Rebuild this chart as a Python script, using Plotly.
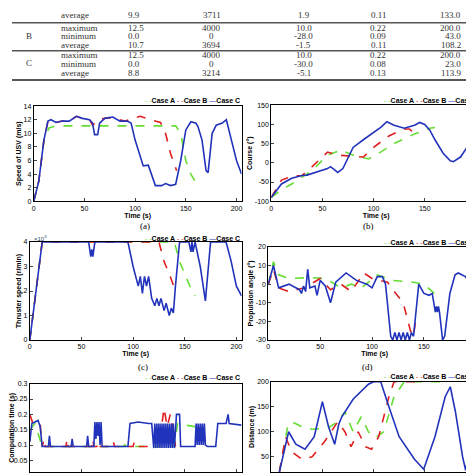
import plotly.graph_objects as go

W = H = 474
def py(p): return 1 - p / H
def px(p): return p / W

GREEN, RED, BLUE = "#66dd33", "#e02020", "#2233bb"

# ---- table data ----
table_rows = [
    ("", "average", ["9.9", "3711", "1.9", "0.11", "133.0"]),
    ("B", "maximum", ["12.5", "4000", "10.0", "0.22", "200.0"]),
    ("", "minimum", ["0.0", "0", "-28.0", "0.09", "43.0"]),
    ("", "average", ["10.7", "3694", "-1.5", "0.11", "108.2"]),
    ("C", "maximum", ["12.5", "4000", "10.0", "0.22", "200.0"]),
    ("", "minimum", ["0.0", "0", "-30.0", "0.08", "23.0"]),
    ("", "average", ["8.8", "3214", "-5.1", "0.13", "113.9"]),
]
row_y = [3, 16, 25, 34, 44, 54, 63]
col_x = [115, 202, 295, 380, 456]

# ---- (a) speed ----
a_A_t = [0, 5, 10, 15, 20, 30, 140, 145, 150, 155, 160]
a_A_v = [0, 3, 9, 10.8, 11, 11.1, 11.1, 10, 6, 4, 2.7]
a_B_t = [0, 5, 10, 14, 17, 22, 28, 35, 42, 48, 55, 58, 65, 75, 90, 100, 105, 115, 125, 130, 135, 141]
a_B_v = [0, 3, 9, 11.8, 12, 11.6, 11.8, 11.8, 12.5, 12.2, 12, 11.2, 12.1, 12.3, 11.8, 12.2, 12.5, 12, 11.6, 10, 7, 4.5]
a_C_t = [0, 5, 10, 14, 17, 22, 28, 35, 42, 48, 55, 58, 60, 63, 65, 70, 78, 85, 92, 96, 100, 105, 108, 113, 116, 120, 126, 130, 135, 140, 145, 150, 155, 160, 162, 166, 170, 172, 176, 180, 186, 190, 195, 200, 205]
a_C_v = [0, 3, 9, 11.8, 12, 11.6, 11.8, 11.8, 12.5, 12.2, 12, 11.5, 9.8, 9.8, 11.5, 12.2, 12.4, 11.8, 11.8, 11.5, 9, 6.5, 5.2, 5.3, 4, 2.3, 2.3, 2.6, 2.3, 2.5, 6, 10.5, 11.7, 11.5, 11, 9, 4.5, 4.2, 10, 11.2, 11.5, 12, 9, 6, 4]

# ---- (b) course ----
b_A_t = [0, 10, 20, 40, 55, 68, 80, 95, 105, 120, 140, 155, 160]
b_A_v = [-90, -70, -55, -20, 20, 33, 20, 10, 25, 50, 75, 90, 92]
b_B_t = [0, 10, 20, 30, 40, 55, 65, 80, 90, 100, 115, 130, 135, 140]
b_B_v = [-90, -45, -35, -33, -10, 28, 20, 18, 15, 40, 70, 88, 88, 75]
b_C_t = [0, 10, 20, 30, 35, 40, 50, 55, 58, 62, 65, 70, 80, 90, 100, 107, 113, 120, 130, 140, 145, 150, 155, 160, 168, 175, 178, 185, 195, 205]
b_C_v = [-90, -55, -40, -33, -32, -28, -20, -15, -10, -20, -25, -15, 40, 60, 80, 92, 107, 98, 90, 98, 105, 100, 85, 60, 25, 5, 3, 15, 55, 80]

# ---- (c) thruster speed ----
c_A_t = [0, 12, 140, 145, 150, 155, 160]
c_A_v = [0, 4000, 4000, 3200, 2700, 2200, 1800]
c_B_t = [0, 12, 125, 130, 135, 141]
c_B_v = [0, 4000, 4000, 3200, 2700, 2000]
c_C_t = [0, 12, 57, 58, 59, 60, 61, 62, 63, 95, 100, 105, 107, 109, 111, 113, 115, 118, 121, 123, 125, 127, 130, 132, 135, 137, 139, 141, 145, 154, 156, 157, 158, 160, 165, 170, 175, 190, 195, 200, 205]
c_C_v = [0, 4000, 4000, 3700, 3400, 3700, 3400, 3700, 4000, 4000, 3000, 2200, 2600, 1900, 2600, 2200, 2600, 1700, 1400, 1700, 1400, 1700, 1200, 1500, 1000, 1300, 1100, 2200, 4000, 4000, 3600, 4000, 3600, 4000, 3000, 1600, 4000, 4000, 3200, 2200, 1800]

# ---- (d) propulsion angle ----
d_A_t = [0, 5, 10, 20, 40, 55, 70, 80, 90, 105, 120, 140, 150, 160]
d_A_v = [0, 12, 5, 3, 3.5, 3, -2, 0, -2, 5, 2, 1, 0, -5]
d_B_t = [0, 5, 10, 20, 35, 50, 60, 70, 80, 92, 100, 115, 120, 130, 137, 140, 142]
d_B_v = [0, 8, -2, -4, -2, 3, -3, 0, -4, 6, 3, 1, -3, -10, -25, -28, -19]
d_C_t = [0, 5, 10, 20, 30, 32, 34, 36, 38, 40, 45, 47, 50, 55, 60, 65, 75, 85, 95, 100, 105, 110, 113, 118,
         120, 122, 124, 126, 128, 130, 132, 134, 136, 138, 140, 145, 150, 155, 158, 160, 161, 162, 163, 164, 165,
         168, 170, 175, 180, 183, 190, 200, 205]
d_C_v = [0, 10, -2, 0, -3, -5, -1, -4, 8, -2, -1, -6, 2, -1, -10, 1, 6, 2, 0, -2, 4, 4, 0, -28,
         -30, -26, -30, -26, -30, -26, -30, -26, -30, -26, -28, 0, -5, -6, -5, -12, -15, -12, -15, -12, -15,
         -30, -28, -5, 5, 6, 4, -3, -15]

# ---- (e) computation time ----
e_A_t = [0, 5, 12, 90, 92, 95, 140, 143, 150, 160]
e_A_v = [0.15, 0.17, 0.095, 0.095, 0.1, 0.095, 0.095, 0.17, 0.165, 0.16]
e_B_t = [0, 3, 10, 12, 14, 15, 35, 36, 37, 60, 61, 62, 65, 66, 67, 80, 81, 82, 100, 101, 102, 120, 121, 122, 125, 128, 130, 133, 136, 138, 141]
e_B_v = [0.2, 0.17, 0.17, 0.095, 0.12, 0.095, 0.095, 0.12, 0.095, 0.095, 0.12, 0.095, 0.095, 0.11, 0.095, 0.095, 0.11, 0.095, 0.095, 0.11, 0.095, 0.095, 0.12, 0.1, 0.16, 0.17, 0.22, 0.16, 0.2, 0.17, 0.095]
e_C_t = [0, 2, 8, 10, 12, 18, 19, 20, 40, 41, 42, 55, 56, 57, 62, 63, 64, 65, 66, 67, 68, 69, 70, 95, 97, 105, 115, 118,
         120, 121, 122, 123, 124, 125, 126, 127, 128, 129, 130, 131, 132, 133, 134, 135, 136, 137, 138, 139, 140,
         142, 145, 146, 160, 161, 162, 163, 164, 165, 166, 167, 168, 169, 170, 172, 180, 182, 185, 190, 192, 193, 205]
e_C_v = [0.11, 0.17, 0.18, 0.16, 0.095, 0.095, 0.13, 0.095, 0.095, 0.12, 0.095, 0.095, 0.13, 0.095, 0.095, 0.175, 0.12, 0.175, 0.13, 0.175, 0.1, 0.175, 0.095, 0.095, 0.17, 0.175, 0.17, 0.17,
         0.09, 0.17, 0.09, 0.17, 0.09, 0.17, 0.09, 0.17, 0.09, 0.17, 0.09, 0.17, 0.09, 0.17, 0.09, 0.17, 0.09, 0.17, 0.09, 0.17, 0.09,
         0.2, 0.2, 0.095, 0.095, 0.17, 0.1, 0.17, 0.1, 0.17, 0.1, 0.17, 0.1, 0.17, 0.1, 0.095, 0.095, 0.17, 0.17, 0.17, 0.2, 0.17, 0.165]

# ---- (f) distance ----
f_A_t = [8, 16, 20, 30, 40, 55, 65, 72, 80, 88, 95, 102, 110, 120, 130, 170]
f_A_v = [20, 110, 120, 110, 105, 107, 120, 140, 100, 130, 100, 88, 100, 170, 200, 200]
f_B_t = [8, 14, 20, 30, 40, 52, 65, 72, 78, 85, 92, 98, 105, 115, 120, 140]
f_B_v = [20, 90, 60, 45, 50, 80, 120, 100, 70, 100, 70, 65, 90, 170, 200, 200]
f_C_t = [8, 17, 24, 33, 42, 50, 56, 62, 66, 69, 80, 95, 100, 107, 115, 125, 140, 149, 160, 170, 175, 180, 187, 190, 195, 205]
f_C_v = [20, 100, 75, 65, 90, 160, 110, 75, 115, 130, 165, 195, 200, 200, 150, 90, 45, 25, 90, 170, 190, 140, 50, 23, 80, 200]

fig = go.Figure()

panels = [
    ("", (22, 232), (97, 195), [0, 14], "Speed of USV (m/s)", [0, 2, 4, 6, 8, 10, 12, 14],
     [(a_A_t, a_A_v), (a_B_t, a_B_v), (a_C_t, a_C_v)], "(a)", 221, 91),
    ("2", (262, 474), (96, 195), [-100, 150], "Course (°)", [-100, -50, 0, 50, 100, 150],
     [(b_A_t, b_A_v), (b_B_t, b_B_v), (b_C_t, b_C_v)], "(b)", 221, 91),
    ("3", (18, 232), (237, 338), [0, 4000], "Thruster speed (r/min)", [0, 1000, 2000, 3000, 4000],
     [(c_A_t, c_A_v), (c_B_t, c_B_v), (c_C_t, c_C_v)], "(c)", 366, 233),
    ("4", (259, 474), (242, 338), [-30, 20], "Propulsion angle (°)", [-30, -20, -10, 0, 10, 20],
     [(d_A_t, d_A_v), (d_B_t, d_B_v), (d_C_t, d_C_v)], "(d)", 366, 237),
    ("5", (18, 232), (383, 474), [0.012, 0.3], "Computation time (s)", [0.05, 0.1, 0.15, 0.2, 0.25, 0.3],
     [(e_A_t, e_A_v), (e_B_t, e_B_v), (e_C_t, e_C_v)], None, None, 377),
    ("6", (262, 474), (381, 474), [19.5, 200], "Distance (m)", [50, 100, 150, 200],
     [(f_A_t, f_A_v), (f_B_t, f_B_v), (f_C_t, f_C_v)], None, None, 376),
]

annotations = []
shapes = []
layout = {}
styles = [(GREEN, "dash"), (RED, "dash"), (BLUE, "solid")]
tfont = dict(family="Liberation Sans", size=7, color="black")
kfont = dict(family="Liberation Sans", size=7, color="black")

for key, xd, yd, yr, ytitle, yticks, data, label, ly, legy in panels:
    xa, ya = "xaxis" + key, "yaxis" + key
    for (t, v), (c, d) in zip(data, styles):
        fig.add_trace(go.Scatter(x=t, y=v, mode="lines", xaxis="x" + key, yaxis="y" + key,
                                 line=dict(color=c, dash=d, width=1.6), showlegend=False))
    xdict = dict(domain=[px(xd[0]), px(xd[1])], anchor="y" + key, range=[0, 205],
                 tickvals=[0, 50, 100, 150, 200], showline=True, linecolor="black", linewidth=1,
                 mirror=True, ticks="inside", ticklen=3, showgrid=False, zeroline=False,
                 tickfont=kfont)
    if label:
        xdict["title"] = dict(text="<b>Time (s)</b>", font=tfont, standoff=0)
    layout[xa] = xdict
    ytext = [("%g" % v) if key != "3" else "%d" % (v // 1000) for v in yticks]
    layout[ya] = dict(domain=[py(yd[1]), py(yd[0])], anchor="x" + key, range=yr,
                      tickvals=yticks, ticktext=ytext, showline=True, linecolor="black", linewidth=1,
                      mirror=True, ticks="inside", ticklen=3, showgrid=False, zeroline=False,
                      tickfont=kfont,
                      title=dict(text="<b>%s</b>" % ytitle, font=tfont, standoff=1))
    if label:
        annotations.append(dict(x=px((xd[0] + xd[1]) / 2), y=py(ly), xref="paper", yref="paper",
                                text=label, showarrow=False, yanchor="middle",
                                font=dict(family="Liberation Serif", size=9, color="black")))
    leg = ("<span style='color:%s'>- -</span><b>Case A</b> <span style='color:%s'>- -</span><b>Case B</b> "
           "<span style='color:%s'>—</span><b>Case C</b>") % (GREEN, RED, BLUE)
    annotations.append(dict(x=px(xd[1]), y=py(legy), xref="paper", yref="paper", text=leg,
                            showarrow=False, xanchor="right", yanchor="middle",
                            font=dict(family="Liberation Sans", size=7, color="black")))

annotations.append(dict(x=px(20), y=py(233), xref="paper", yref="paper", text="×10<sup>3</sup>",
                        showarrow=False, xanchor="left", yanchor="middle",
                        font=dict(family="Liberation Sans", size=6)))

# table
sfont = dict(family="Liberation Serif", size=9, color="#333")
for (grp, stat, vals), y in zip(table_rows, row_y):
    if grp:
        annotations.append(dict(x=px(12), y=py(y + 9), xref="paper", yref="paper", text=grp,
                                showarrow=False, yanchor="middle", font=sfont))
    annotations.append(dict(x=px(48), y=py(y), xref="paper", yref="paper", text=stat,
                            showarrow=False, yanchor="middle", font=sfont))
    for v, cx in zip(vals, col_x):
        annotations.append(dict(x=px(cx), y=py(y), xref="paper", yref="paper", text=v,
                                showarrow=False, yanchor="middle", font=sfont))
for ly, w in [(11, 1.5), (40, 1.5), (70, 2)]:
    shapes.append(dict(type="line", xref="paper", yref="paper", x0=0, x1=1, y0=py(ly), y1=py(ly),
                       line=dict(color="#555", width=w)))

fig.update_layout(width=W, height=H, margin=dict(l=0, r=0, t=0, b=0), paper_bgcolor="white",
                  plot_bgcolor="white", annotations=annotations, shapes=shapes, **layout)
fig.write_html("out.html")
